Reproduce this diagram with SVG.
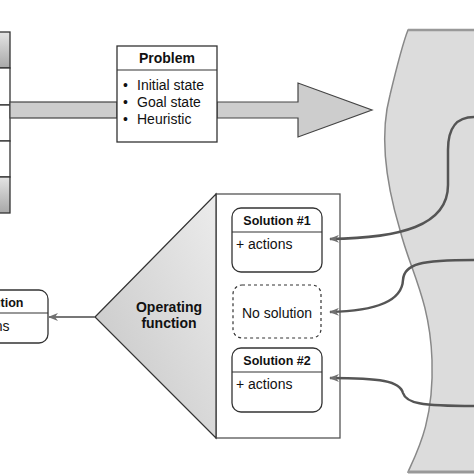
<svg xmlns="http://www.w3.org/2000/svg" width="474" height="474" viewBox="0 0 474 474">
<style>
.box{fill:#fff;stroke:#333;stroke-width:1.3}
.dash{fill:#fff;stroke:#333;stroke-width:1.2;stroke-dasharray:3 3}
.t{font-family:"Liberation Sans",Arial,sans-serif;font-size:14px;fill:#111}
.b{font-family:"Liberation Sans",Arial,sans-serif;font-size:12.5px;font-weight:bold;fill:#111}
.conn{fill:none;stroke:#555;stroke-width:2.5}
</style>
<defs>
<linearGradient id="gcell" x1="0" y1="0" x2="0" y2="1">
<stop offset="0" stop-color="#e4e4e4"/><stop offset="1" stop-color="#a8a8a8"/>
</linearGradient>
<linearGradient id="gtri" x1="1" y1="0" x2="0" y2="1">
<stop offset="0" stop-color="#ececec"/><stop offset="1" stop-color="#c4c4c4"/>
</linearGradient>
<marker id="ah" viewBox="0 0 10 8" refX="9" refY="4" markerWidth="10" markerHeight="8" markerUnits="userSpaceOnUse" orient="auto">
<path d="M0,0 L10,4 L0,8 L3,4 z" fill="#707070"/>
</marker>
</defs>

<g id="region">
<path d="M408,30 L474,30 L474,472 L408,472 C418,450 434,420 432,360 C430,300 410,270 400,230 C388,190 378,140 390,95 C396,70 402,45 408,30 Z" fill="#dcdcdc" stroke="none"/>
<path d="M474,30 L408,30 C402,45 396,70 390,95 C378,140 388,190 400,230 C410,270 430,300 432,360 C434,420 418,450 408,472 L474,472" fill="none" stroke="#888" stroke-width="1.5"/>
<line x1="408" y1="30" x2="474" y2="30" stroke="#999" stroke-width="2.5"/>
<line x1="408" y1="472" x2="474" y2="472" stroke="#999" stroke-width="3"/>
</g>

<g id="column">
<rect x="-20" y="32" width="30" height="36" fill="url(#gcell)" stroke="#333" stroke-width="1.3"/>
<rect x="-20" y="68" width="30" height="37" class="box"/>
<rect x="-20" y="105" width="30" height="36" class="box"/>
<rect x="-20" y="141" width="30" height="36" class="box"/>
<rect x="-20" y="177" width="30" height="36" fill="url(#gcell)" stroke="#333" stroke-width="1.3"/>
</g>

<g id="big-arrow">
<rect x="10" y="102" width="107" height="16" fill="#cdcdcd" stroke="#444" stroke-width="1.2"/>
<polygon points="217,102 298,102 298,83 372,110 298,137 298,118 217,118" fill="#cdcdcd" stroke="#444" stroke-width="1.2"/>
</g>

<g id="problem">
<rect x="117" y="46" width="100" height="96" class="box"/>
<line x1="117" y1="70" x2="217" y2="70" stroke="#333" stroke-width="1.2"/>
<text x="167" y="63" text-anchor="middle" class="b" style="font-size:14px">Problem</text>
<text x="123" y="90" class="t">•</text><text x="137" y="90" class="t">Initial state</text>
<text x="123" y="107" class="t">•</text><text x="137" y="107" class="t">Goal state</text>
<text x="123" y="124" class="t">•</text><text x="137" y="124" class="t">Heuristic</text>
</g>

<g id="operating-function">
<rect x="216" y="194" width="124" height="244" fill="#fff" stroke="#555" stroke-width="1.3"/>
<polygon points="95,317 216,194 216,438" fill="url(#gtri)" stroke="#333" stroke-width="1.2"/>
<text x="169" y="312" text-anchor="middle" class="b" style="font-size:14px">Operating</text>
<text x="169" y="328" text-anchor="middle" class="b" style="font-size:14px">function</text>
</g>

<g id="solution1">
<rect x="232" y="208" width="90" height="64" rx="9" class="box"/>
<line x1="232" y1="232" x2="322" y2="232" stroke="#333" stroke-width="1.2"/>
<text x="277" y="225" text-anchor="middle" class="b">Solution #1</text>
<text x="236" y="249" class="t">+ actions</text>
</g>

<g id="no-solution">
<rect x="233" y="285" width="88" height="53" rx="9" class="dash"/>
<text x="277" y="318" text-anchor="middle" class="t">No solution</text>
</g>

<g id="solution2">
<rect x="232" y="348" width="90" height="64" rx="9" class="box"/>
<line x1="232" y1="372" x2="322" y2="372" stroke="#333" stroke-width="1.2"/>
<text x="277" y="365" text-anchor="middle" class="b">Solution #2</text>
<text x="236" y="389" class="t">+ actions</text>
</g>

<g id="left-solution">
<rect x="-51" y="290" width="99" height="53" rx="9" class="box"/>
<line x1="-51" y1="313" x2="48" y2="313" stroke="#333" stroke-width="1.2"/>
<text x="-1.5" y="307" text-anchor="middle" class="b">Solution</text>
<text x="-47" y="331" class="t">+ actions</text>
</g>

<g id="connectors">
<line x1="95" y1="317" x2="49" y2="317" stroke="#777" stroke-width="2" marker-end="url(#ah)"/>
<path class="conn" d="M474,117 C456,117 448,128 448,150 L448,185 C448,226 400,238 330,239" marker-end="url(#ah)"/>
<path class="conn" d="M474,260 C420,260 404,264 403,280 C402,300 380,311 330,312" marker-end="url(#ah)"/>
<path class="conn" d="M474,406 C420,406 406,403 403,393 C400,381 380,378 330,378" marker-end="url(#ah)"/>
</g>
</svg>
